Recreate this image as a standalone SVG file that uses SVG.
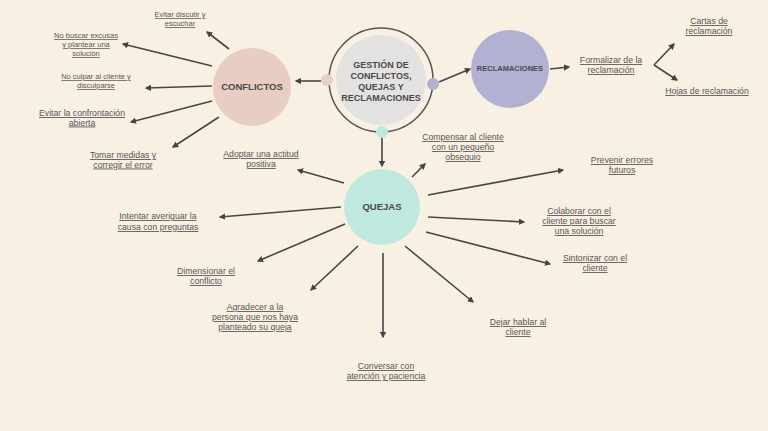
<svg xmlns="http://www.w3.org/2000/svg" width="768" height="431" viewBox="0 0 768 431">
<defs>
<marker id="ah" viewBox="0 0 10 10" refX="8" refY="5" markerWidth="4" markerHeight="4" orient="auto"><path d="M0,0 L10,5 L0,10 z" fill="#444"/></marker>
<style>
.c line,.c path{stroke:#4a4545;stroke-width:1.6;fill:none;marker-end:url(#ah)}
.t{font-family:"Liberation Sans",Arial,sans-serif;fill:#5a5555;text-anchor:middle;text-decoration:underline;font-size:8.7px}
.s{font-size:7.5px}
.h{font-family:"Liberation Sans",Arial,sans-serif;fill:#4a4848;text-anchor:middle;font-weight:bold}
</style>
</defs>
<rect width="768" height="431" fill="#f8f0e3"/>
<g class="c" id="connectors">
<line x1="321" y1="81" x2="296" y2="81"/>
<line x1="439" y1="82" x2="470" y2="69"/>
<line x1="382" y1="137" x2="382" y2="166"/>
<line x1="229" y1="49" x2="207" y2="32"/>
<line x1="212" y1="66" x2="123" y2="44"/>
<line x1="212" y1="86" x2="146" y2="88"/>
<line x1="212" y1="101" x2="131" y2="122"/>
<line x1="219" y1="117" x2="173" y2="147"/>
<line x1="550" y1="69" x2="569" y2="67"/>
<line x1="654" y1="65" x2="674" y2="44"/>
<line x1="654" y1="65" x2="677" y2="80"/>
<line x1="344" y1="183" x2="298" y2="170"/>
<line x1="412" y1="177" x2="425" y2="164"/>
<line x1="428" y1="195" x2="563" y2="170"/>
<line x1="341" y1="207" x2="220" y2="217"/>
<line x1="428" y1="217" x2="524" y2="222"/>
<line x1="345" y1="224" x2="258" y2="261"/>
<line x1="426" y1="232" x2="550" y2="264"/>
<line x1="358" y1="246" x2="311" y2="290"/>
<line x1="405" y1="246" x2="473" y2="302"/>
<line x1="383" y1="253" x2="383" y2="337"/>
</g>
<g id="center">
<circle cx="381" cy="80" r="52" fill="none" stroke="#5a5350" stroke-width="1.5"/>
<circle cx="381" cy="80" r="45" fill="#e4e2e1"/>
<text class="h" font-size="9"><tspan x="381" y="68">GESTIÓN DE</tspan><tspan x="381" y="79">CONFLICTOS,</tspan><tspan x="381" y="90">QUEJAS Y</tspan><tspan x="381" y="101">RECLAMACIONES</tspan></text>
<circle cx="327" cy="80" r="6" fill="#e8cdc3"/>
<circle cx="433" cy="84" r="6" fill="#b3b0d0"/>
<circle cx="382" cy="132" r="6" fill="#bfe8dc"/>
</g>
<g id="conflictos"><circle cx="252" cy="87" r="39" fill="#e8cdc3"/><text class="h" x="252" y="90" font-size="9.5">CONFLICTOS</text></g>
<g id="reclamaciones"><circle cx="510" cy="69" r="39" fill="#b3b1d1"/><text class="h" x="510" y="71" font-size="7.5">RECLAMACIONES</text></g>
<g id="quejas"><circle cx="382" cy="207" r="38" fill="#bfe8de"/><text class="h" x="382" y="210" font-size="9.5">QUEJAS</text></g>
<g id="labels">
<text class="t s"><tspan x="180" y="17">Evitar discutir y</tspan><tspan x="180" y="26">escuchar</tspan></text>
<text class="t s"><tspan x="86" y="38">No buscar excusas</tspan><tspan x="86" y="47">y plantear una</tspan><tspan x="86" y="56">solución</tspan></text>
<text class="t s"><tspan x="96" y="79">No culpar al cliente y</tspan><tspan x="96" y="88">disculparse</tspan></text>
<text class="t" font-size="7"><tspan x="82" y="116">Evitar la confrontación</tspan><tspan x="82" y="125.5">abierta</tspan></text>
<text class="t" font-size="7"><tspan x="123" y="158">Tomar medidas y</tspan><tspan x="123" y="167.5">corregir el error</tspan></text>
<text class="t"><tspan x="261" y="157">Adoptar una actitud</tspan><tspan x="261" y="167">positiva</tspan></text>
<text class="t"><tspan x="463" y="140">Compensar al cliente</tspan><tspan x="463" y="150">con un pequeño</tspan><tspan x="463" y="160">obsequio </tspan></text>
<text class="t"><tspan x="622" y="163">Prevenir errores</tspan><tspan x="622" y="173">futuros</tspan></text>
<text class="t"><tspan x="709" y="24">Cartas de</tspan><tspan x="709" y="34">reclamación </tspan></text>
<text class="t"><tspan x="611" y="63">Formalizar de la</tspan><tspan x="611" y="73">reclamación </tspan></text>
<text class="t" x="707" y="94">Hojas de reclamación </text>
<text class="t"><tspan x="158" y="219">Intentar averiguar la</tspan><tspan x="158" y="230">causa con preguntas </tspan></text>
<text class="t"><tspan x="579" y="214">Colaborar con el</tspan><tspan x="579" y="224">cliente para buscar</tspan><tspan x="579" y="234">una solución</tspan></text>
<text class="t"><tspan x="206" y="274">Dimensionar el</tspan><tspan x="206" y="284">conflicto </tspan></text>
<text class="t"><tspan x="595" y="261">Sintonizar con el</tspan><tspan x="595" y="271">cliente</tspan></text>
<text class="t"><tspan x="255" y="310">Agradecer a la</tspan><tspan x="255" y="320">persona que nos haya</tspan><tspan x="255" y="330">planteado su queja</tspan></text>
<text class="t"><tspan x="518" y="325">Dejar hablar al</tspan><tspan x="518" y="335">cliente </tspan></text>
<text class="t"><tspan x="386" y="369">Conversar con</tspan><tspan x="386" y="379">atención y paciencia</tspan></text>
</g>
</svg>
